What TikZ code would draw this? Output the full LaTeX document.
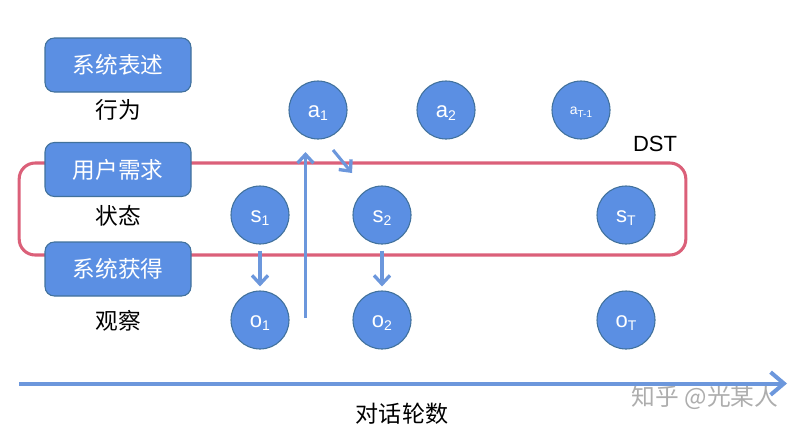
\documentclass[tikz,border=0pt]{standalone}
\usepackage{fontspec}
\setmainfont{Liberation Sans}
\newfontfamily\cjk{Noto Sans CJK SC}
\usetikzlibrary{arrows.meta}
\definecolor{blueFill}{HTML}{5B8FE3}
\definecolor{blueEdge}{HTML}{41719C}
\definecolor{arrowBlue}{HTML}{6C97DC}
\definecolor{redFrame}{HTML}{DB6079}
\newcommand{\lowsub}[2][10.5]{\raisebox{-2.25pt}{\fontsize{#1}{#1}\selectfont #2}}
\tikzset{
  x=0.75pt,y=-0.75pt,
  bluebox/.style={draw=blueEdge,line width=0.8pt,fill=blueFill,rounded corners=7pt,minimum width=109.5pt,minimum height=40.5pt,inner sep=0pt,text=white,font=\cjk\fontsize{17}{17}\selectfont},
  circ/.style={circle,draw=blueEdge,line width=0.8pt,fill=blueFill,minimum size=43.5pt,inner sep=0pt,text=white,text height=11.5pt,text depth=1pt,font=\fontsize{16.5}{16.5}\selectfont},
  label/.style={inner sep=0pt,text=black,font=\cjk\fontsize{17}{17}\selectfont},
  flow/.style={draw=arrowBlue,line width=2.3pt,-{Straight Barb[length=6.5pt,width=12pt,line width=2.5pt]}},
  axis/.style={draw=arrowBlue,line width=3pt,-{Straight Barb[length=10pt,width=17pt,line width=3pt]}},
}
\begin{document}
\begin{tikzpicture}
\useasboundingbox (0,0) rectangle (799,433);
\node[draw=redFrame,line width=2.3pt,rounded corners=12pt,minimum width=500pt,minimum height=69pt,inner sep=0pt] (dst) at (352.5,209) {};
\node[bluebox] (b1) at (118,65) {系统表述};
\node[bluebox] (b2) at (118,169.5) {用户需求};
\node[bluebox] (b3) at (118,269) {系统获得};
\node[label] (l1) at (118,110) {行为};
\node[label] (l2) at (118,216) {状态};
\node[label] (l3) at (118,321) {观察};
\node[circ] (a1) at (318,110) {a\lowsub{1}};
\node[circ] (a2) at (446,110) {a\lowsub{2}};
\node[circ,text height=7pt,text depth=1pt,font=\fontsize{10.5}{10.5}\selectfont] (a3) at (581,110) {a\lowsub[7.5]{T-1}};
\node[circ] (s1) at (260,215) {s\lowsub{1}};
\node[circ] (s2) at (382,215) {s\lowsub{2}};
\node[circ] (s3) at (626,215) {s\lowsub{T}};
\node[circ] (o1) at (260,320) {o\lowsub{1}};
\node[circ] (o2) at (382,320) {o\lowsub{2}};
\node[circ] (o3) at (626,320) {o\lowsub{T}};
\node[inner sep=0pt,font=\fontsize{16.5}{16.5}\selectfont] (dstl) at (655,143.5) {DST};
\node[label,font=\cjk\fontsize{17.3}{17.3}\selectfont] (xl) at (402,414) {对话轮数};
\node[inner sep=0pt,text=black!32,font=\cjk\fontsize{17.8}{17.8}\selectfont] (wm) at (705,398) {知乎 @光某人};
\coordinate (v0) at (305.5,318);
\coordinate (v1) at (305.5,152);
\coordinate (d0) at (333,150);
\coordinate (d1) at (352,173);
\coordinate (h0) at (19,383.5);
\coordinate (h1) at (787,383.5);
\draw[flow] (v0) -- (v1);
\draw[flow] (d0) -- (d1);
\draw[flow,shorten <=4.5pt,shorten >=3pt] (s1) -- (o1);
\draw[flow,shorten <=4.5pt,shorten >=3pt] (s2) -- (o2);
\draw[axis] (h0) -- (h1);
\end{tikzpicture}
\end{document}
